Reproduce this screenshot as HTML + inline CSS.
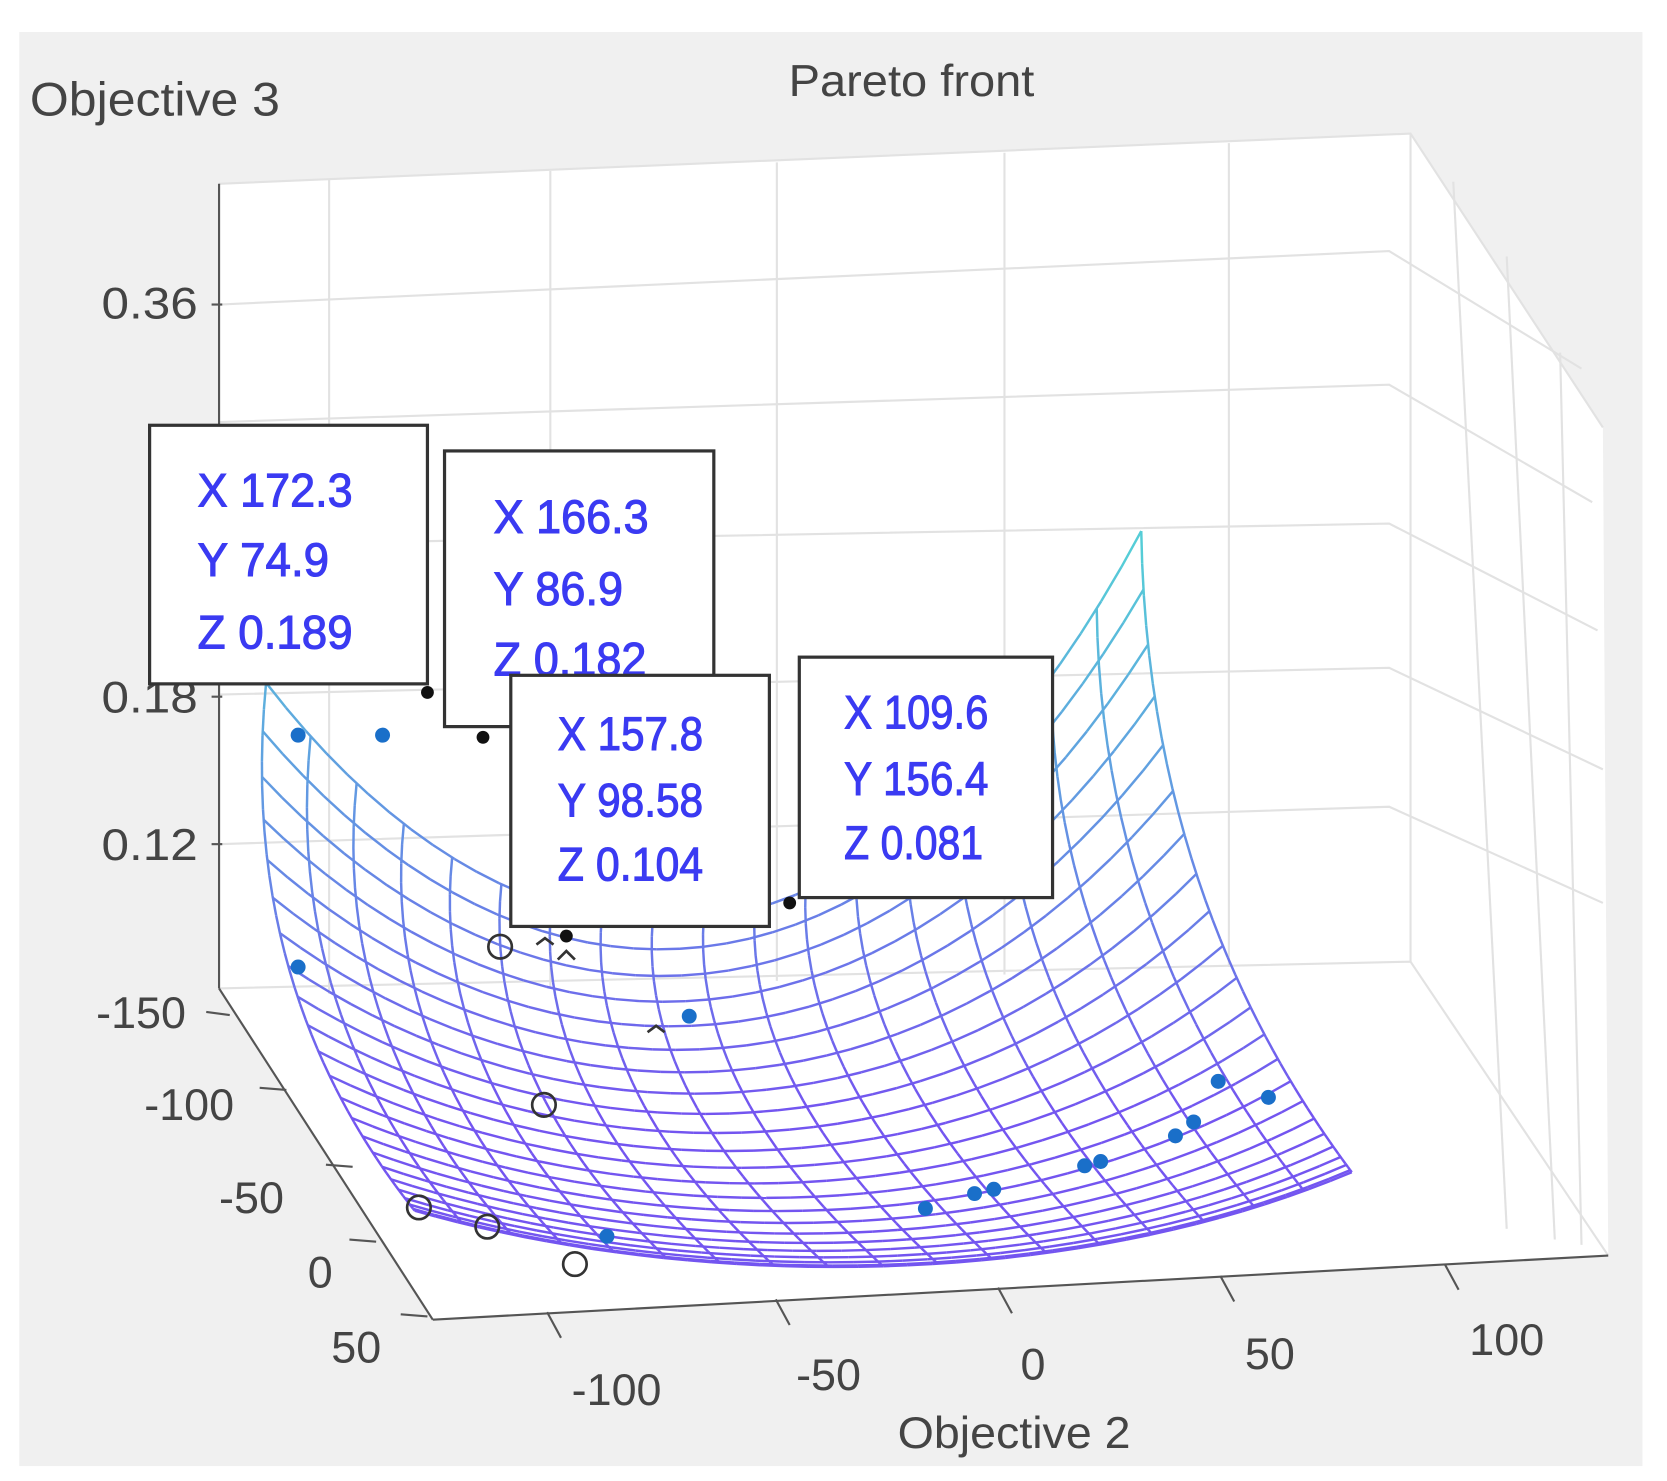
<!DOCTYPE html>
<html><head><meta charset="utf-8"><style>
html,body{margin:0;padding:0;background:#fff}
svg{display:block}
text{font-family:"Liberation Sans",sans-serif}
.t{font-size:42px;fill:#444}
.d{font-size:44px;fill:#3a3af2;stroke:#3a3af2;stroke-width:1}
</style></head><body>
<svg id="s" width="1667" height="1481" viewBox="0 0 1560 1386" preserveAspectRatio="none" xmlns="http://www.w3.org/2000/svg">
<rect x="18" y="30" width="1519" height="1342" fill="#f0f0f0"/>
<polygon points="205,172 1320,125 1500,400 1505,1175 405,1235 205,925" fill="#fff"/>
<g stroke="#e2e2e2" stroke-width="2" fill="none">
<line x1="308" y1="168" x2="308" y2="930"/><line x1="515" y1="160" x2="515" y2="925"/>
<line x1="727" y1="152" x2="727" y2="918"/><line x1="940" y1="143" x2="940" y2="912"/>
<line x1="1150" y1="134" x2="1150" y2="905"/><line x1="1320" y1="125" x2="1320" y2="900"/>
<polyline points="205,285 1300,235 1480,345"/><polyline points="205,395 1300,360 1490,470"/>
<polyline points="205,510 1300,490 1495,590"/><polyline points="205,650 1300,625 1500,720"/>
<polyline points="205,790 1300,755 1500,845"/>
<polyline points="205,925 1320,900 1505,1175"/>
<line x1="1360" y1="170" x2="1410" y2="1150"/><line x1="1410" y1="240" x2="1455" y2="1160"/>
<line x1="1460" y1="330" x2="1480" y2="1165"/>
<polyline points="205,172 1320,125 1500,400"/>
</g>
<g stroke="#555" stroke-width="2" fill="none">
<line x1="205" y1="172" x2="205" y2="925"/>
<line x1="205" y1="925" x2="405" y2="1235"/>
<line x1="405" y1="1235" x2="1505" y2="1175"/>
<line x1="193" y1="947" x2="215" y2="950"/><line x1="243" y1="1018" x2="268" y2="1020"/>
<line x1="305" y1="1090" x2="330" y2="1092"/><line x1="327" y1="1160" x2="352" y2="1162"/>
<line x1="375" y1="1230" x2="400" y2="1232"/>
<line x1="512" y1="1228" x2="525" y2="1252"/><line x1="726" y1="1216" x2="739" y2="1240"/>
<line x1="934" y1="1205" x2="947" y2="1229"/><line x1="1142" y1="1194" x2="1155" y2="1218"/>
<line x1="1352" y1="1183" x2="1365" y2="1207"/>
<line x1="198" y1="285" x2="208" y2="285"/><line x1="198" y1="652" x2="208" y2="652"/><line x1="198" y1="790" x2="208" y2="790"/>
</g>
<g id="mesh" fill="none" stroke-width="2.3"></g>
<text x="28" y="108" style="font-size:44px;fill:#444" textLength="234" lengthAdjust="spacingAndGlyphs">Objective 3</text>
<text x="738" y="90" class="t" textLength="230" lengthAdjust="spacingAndGlyphs">Pareto front</text>
<text x="840" y="1355" class="t" textLength="218" lengthAdjust="spacingAndGlyphs">Objective 2</text>
<g class="t">
<text x="95" y="298" textLength="90" lengthAdjust="spacingAndGlyphs">0.36</text>
<text x="95" y="667" textLength="90" lengthAdjust="spacingAndGlyphs">0.18</text>
<text x="95" y="805" textLength="90" lengthAdjust="spacingAndGlyphs">0.12</text>
<text x="90" y="962">-150</text><text x="135" y="1048">-100</text><text x="205" y="1135">-50</text>
<text x="288" y="1205">0</text><text x="310" y="1275">50</text>
<text x="535" y="1315">-100</text><text x="745" y="1301">-50</text><text x="955" y="1291">0</text>
<text x="1165" y="1281">50</text><text x="1375" y="1268">100</text>
</g>
<g fill="#1a6fc9" id="pts"></g>
<g fill="none" stroke="#333" stroke-width="2.5">
<circle cx="468" cy="886" r="11"/><circle cx="509" cy="1034" r="11"/><circle cx="392" cy="1130" r="11"/>
<circle cx="456" cy="1148" r="11"/><circle cx="538" cy="1183" r="11"/>
<path d="M502 884 l8 -6 l8 6 M522 898 l8 -8 l8 8 M606 966 l8 -6 l8 6"/>
</g>
<g fill="#fff" stroke="#333" stroke-width="3">
<rect x="140" y="398" width="260" height="242"/>
<rect x="416" y="422" width="252" height="258"/>
</g>
<g class="d">
<text x="185" y="474" textLength="145" lengthAdjust="spacingAndGlyphs">X 172.3</text>
<text x="185" y="539" textLength="123" lengthAdjust="spacingAndGlyphs">Y 74.9</text>
<text x="185" y="607" textLength="145" lengthAdjust="spacingAndGlyphs">Z 0.189</text>
<text x="462" y="499" textLength="145" lengthAdjust="spacingAndGlyphs">X 166.3</text>
<text x="462" y="566" textLength="121" lengthAdjust="spacingAndGlyphs">Y 86.9</text>
<text x="462" y="632" textLength="143" lengthAdjust="spacingAndGlyphs">Z 0.182</text>
</g>
<rect x="478" y="632" width="242" height="235" fill="#fff" stroke="#333" stroke-width="3"/>
<rect x="748" y="615" width="237" height="225" fill="#fff" stroke="#333" stroke-width="3"/>
<g class="d">
<text x="522" y="702" textLength="136" lengthAdjust="spacingAndGlyphs">X 157.8</text>
<text x="522" y="764" textLength="136" lengthAdjust="spacingAndGlyphs">Y 98.58</text>
<text x="522" y="824" textLength="136" lengthAdjust="spacingAndGlyphs">Z 0.104</text>
<text x="790" y="682" textLength="135" lengthAdjust="spacingAndGlyphs">X 109.6</text>
<text x="790" y="744" textLength="135" lengthAdjust="spacingAndGlyphs">Y 156.4</text>
<text x="790" y="804" textLength="130" lengthAdjust="spacingAndGlyphs">Z 0.081</text>
</g>
<g fill="#111"><circle cx="400" cy="648" r="6"/><circle cx="452" cy="690" r="6"/><circle cx="530" cy="876" r="6"/><circle cx="739" cy="845" r="6"/></g>
</svg>
<script>
var NS="http://www.w3.org/2000/svg";
function q(a,b,c,t){return [(1-t)*(1-t)*a[0]+2*t*(1-t)*b[0]+t*t*c[0],(1-t)*(1-t)*a[1]+2*t*(1-t)*b[1]+t*t*c[1]];}
var L0=[249,639],L2=[388,1133],Lc=[2*270-0.5*(249+388),2*905-0.5*(639+1133)];
var R0=[1068,497],R2=[1265,1097],Rc=[2*1120-0.5*(1068+1265),2*819-0.5*(497+1097)];
function P(u,v){
 var w=1-Math.pow(1-v,1.8);
 var L=q(L0,Lc,L2,w),R=q(R0,Rc,R2,w);
 var mn=860+(1185-860)*w;
 var avg=(L[1]+R[1])/2;
 var B=(mn-0.25*avg)/0.75;
 var dx=R[0]-L[0];
 var p1=[L[0]+0.3*dx,B],p2=[R[0]-0.3*dx,B];
 var a=(1-u)*(1-u)*(1-u),b=3*u*(1-u)*(1-u),c=3*u*u*(1-u),d=u*u*u;
 return [a*L[0]+b*p1[0]+c*p2[0]+d*R[0],a*L[1]+b*p1[1]+c*p2[1]+d*R[1]];
}
function col(y){var f=Math.min(1,Math.max(0,(y-520)/520));
 var r=Math.round(85+f*30),g=Math.round(205-f*120),b=Math.round(215+f*25);return "rgb("+r+","+g+","+b+")";}
var m=document.getElementById("mesh"),NR=22,NC=18,K=40;
function seg(f){for(var k=0;k<K;k++){var p=f(k/K),r=f((k+1)/K);var l=document.createElementNS(NS,"line");
 l.setAttribute("x1",p[0]);l.setAttribute("y1",p[1]);l.setAttribute("x2",r[0]);l.setAttribute("y2",r[1]);
 l.setAttribute("stroke",col((p[1]+r[1])/2));m.appendChild(l);}}
for(var i=0;i<=NR;i++){(function(a){seg(function(t){return P(t,a)});})(i/NR);}
for(var j=0;j<=NC;j++){(function(a){seg(function(t){return P(a,t)});})(j/NC);}
var pts=[[279,688],[358,688],[279,905],[645,951],[568,1157],[866,1131],[912,1117],[930,1113],[1015,1091],[1030,1087],[1100,1063],[1117,1050],[1140,1012],[1187,1027]];
var g=document.getElementById("pts");pts.forEach(function(p){var c=document.createElementNS(NS,"circle");c.setAttribute("cx",p[0]);c.setAttribute("cy",p[1]);c.setAttribute("r",7);g.appendChild(c);});
</script>
</body></html>
